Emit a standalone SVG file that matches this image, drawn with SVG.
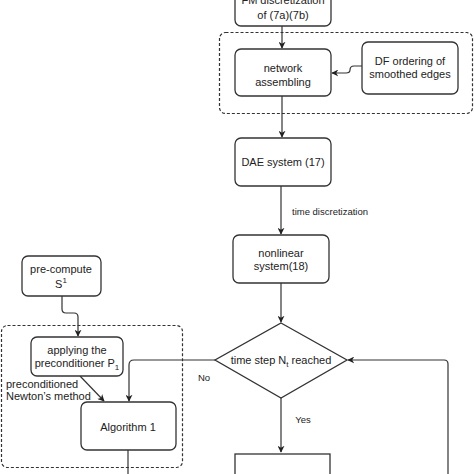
<svg xmlns="http://www.w3.org/2000/svg" width="474" height="474" viewBox="0 0 474 474">
<defs>
<style>
.box{fill:#fff;stroke:#333;stroke-width:1.3}
.grp{fill:none;stroke:#333;stroke-width:1.2;stroke-dasharray:3,2}
.edge{fill:none;stroke:#333;stroke-width:1.2}
text{font-family:"Liberation Sans",Arial,sans-serif;font-size:11px;fill:#222;text-anchor:middle}
.sm{font-size:9.5px}
.l{text-anchor:start}
</style>
<marker id="ah" viewBox="0 0 10 10" refX="9" refY="5" markerWidth="7" markerHeight="7" markerUnits="userSpaceOnUse" orient="auto">
<path d="M0,0 L10,5 L0,10 L3,5 Z" fill="#222"/>
</marker>
</defs>
<rect width="474" height="474" fill="#fff"/>
<g id="groups">
<rect class="grp" x="219.5" y="32.5" width="253" height="81" rx="6"/>
<rect class="grp" x="1.5" y="325.5" width="181" height="142" rx="6"/>
</g>
<g id="connectors">
<path class="edge" d="M282,26 V48" marker-end="url(#ah)"/>
<path class="edge" d="M362,66 H354 Q350,66 350,70 Q350,73 346,73 H332" marker-end="url(#ah)"/>
<path class="edge" d="M282,96 V137" marker-end="url(#ah)"/>
<path class="edge" d="M281,186 V234" marker-end="url(#ah)"/>
<path class="edge" d="M281,283 V322" marker-end="url(#ah)"/>
<path class="edge" d="M281,398 V452" marker-end="url(#ah)"/>
<path class="edge" d="M448,474 V364 Q448,360 444,360 H348" marker-end="url(#ah)"/>
<path class="edge" d="M215,360 H134 Q129,360 129,365 V401" marker-end="url(#ah)"/>
<path class="edge" d="M62,296 V309 Q62,313 66,313 H74 Q78,313 78,317 V336" marker-end="url(#ah)"/>
<path class="edge" d="M80,376 L104,401" marker-end="url(#ah)"/>
<path class="edge" d="M128,450 V474"/>
<text class="sm l" x="292" y="215">time discretization</text>
<text class="sm" x="303" y="423">Yes</text>
<text class="sm" x="204" y="381">No</text>
<text class="l" x="6" y="388">preconditioned</text>
<text class="l" x="6" y="400">Newton’s method</text>
</g>
<g id="fm">
<rect class="box" x="235" y="-10" width="96" height="36" rx="6"/>
<text x="283" y="4">FM discretization</text>
<text x="283" y="19">of (7a)(7b)</text>
</g>
<g id="network">
<rect class="box" x="235" y="49" width="96" height="47" rx="6"/>
<text x="283" y="72">network</text>
<text x="283" y="86">assembling</text>
</g>
<g id="df">
<rect class="box" x="362" y="42" width="96" height="52" rx="6"/>
<text x="410" y="65">DF ordering of</text>
<text x="410" y="78">smoothed edges</text>
</g>
<g id="dae">
<rect class="box" x="235" y="138" width="96" height="48" rx="6"/>
<text x="283" y="166">DAE system (17)</text>
</g>
<g id="nonlinear">
<rect class="box" x="233" y="235" width="96" height="48" rx="6"/>
<text x="281" y="257">nonlinear</text>
<text x="281" y="270">system(18)</text>
</g>
<g id="decision">
<path class="box" d="M281,323 L347,360 L281,398 L215,360 Z"/>
<text x="281" y="364">time step N<tspan font-size="8" dy="3">t</tspan><tspan dy="-3"> reached</tspan></text>
</g>
<g id="result">
<rect class="box" x="235" y="454" width="95" height="30"/>
</g>
<g id="precompute">
<rect class="box" x="22" y="256" width="79" height="40" rx="6"/>
<text x="61" y="273">pre-compute</text>
<text x="61" y="288">S<tspan font-size="8" dy="-5">1</tspan></text>
</g>
<g id="applying">
<rect class="box" x="31" y="337" width="92" height="39" rx="6"/>
<text x="77" y="354">applying the</text>
<text x="77" y="367">preconditioner P<tspan font-size="8" dy="3">1</tspan></text>
</g>
<g id="algorithm">
<rect class="box" x="81" y="402" width="95" height="48" rx="6"/>
<text x="128" y="431">Algorithm 1</text>
</g>
</svg>
